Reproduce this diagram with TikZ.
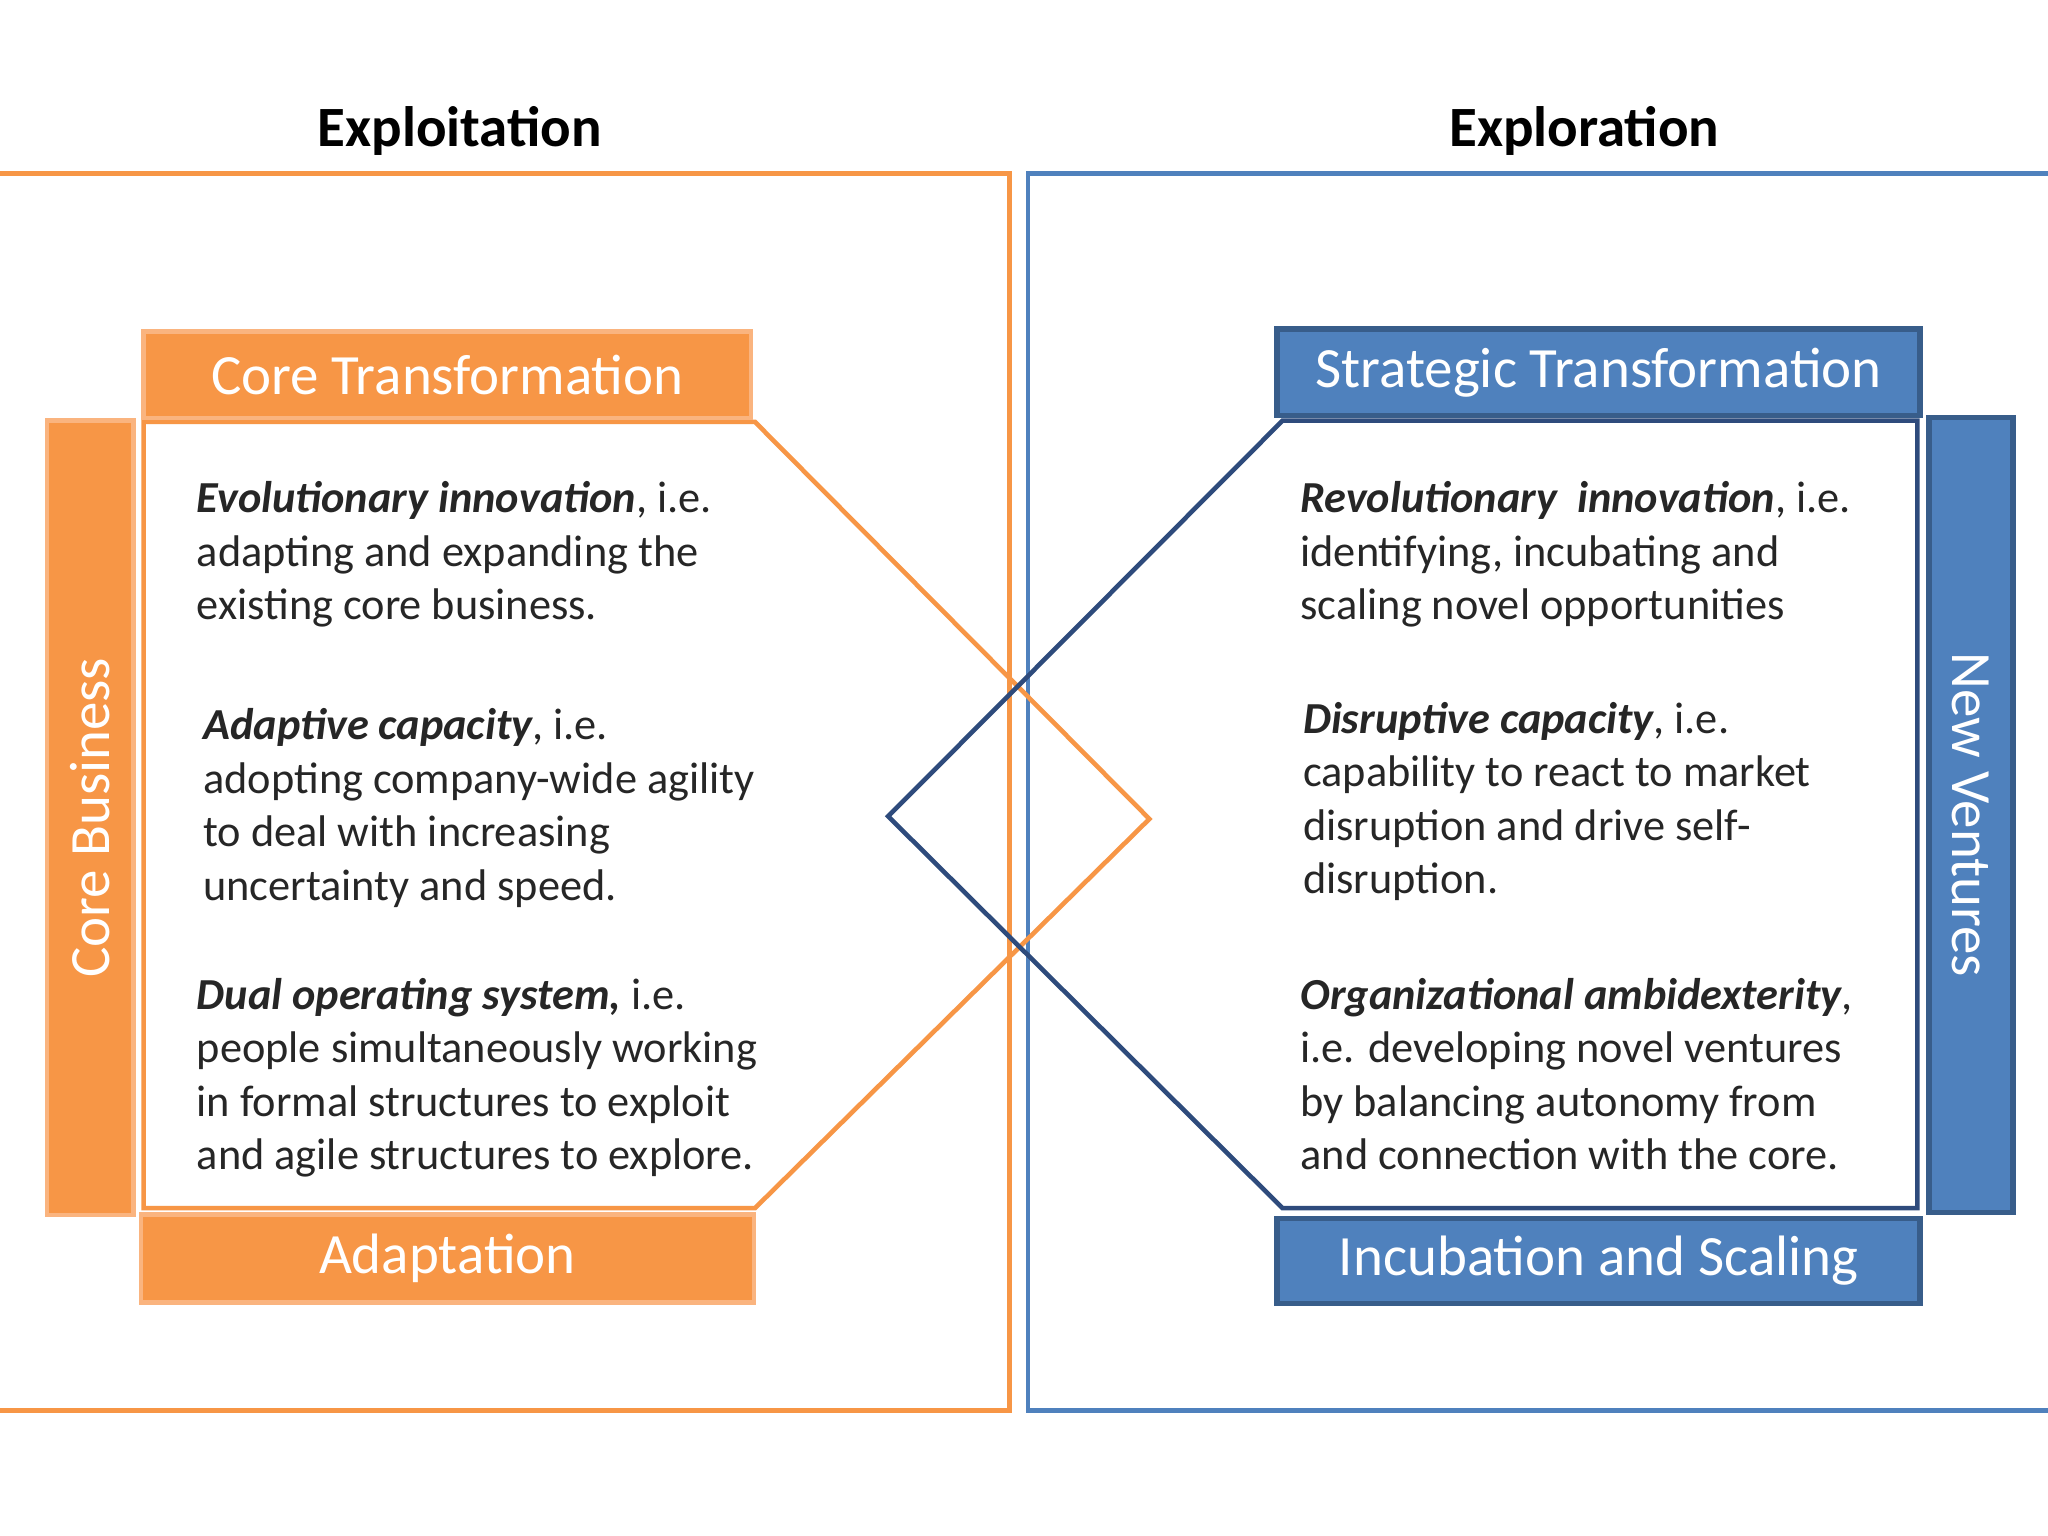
\documentclass[tikz,border=0pt]{standalone}
\usepackage{fontspec}
\setmainfont{Carlito}
\usetikzlibrary{calc}
\definecolor{exploitorange}{HTML}{F79646}
\definecolor{orangeedge}{HTML}{FAB47F}
\definecolor{explorblue}{HTML}{4F81BD}
\definecolor{explorborder}{HTML}{385D8A}
\definecolor{navyline}{HTML}{2E4B7C}
\definecolor{bodygray}{HTML}{262626}

\begin{document}
\begin{tikzpicture}[x=0.01cm, y=-0.01cm,
    orangebar/.style={draw=orangeedge, fill=exploitorange, text=white, line width=1pt, inner sep=0pt, font=\fontsize{12.4}{14}\selectfont},
    bluebar/.style={draw=explorborder, fill=explorblue, text=white, line width=1.2pt, inner sep=0pt, font=\fontsize{12.4}{14}\selectfont},
    blurb/.style={anchor=north west, align=left, inner sep=0pt, text=bodygray, font=\fontsize{9.65}{11.65}\selectfont},
    header/.style={font=\bfseries\fontsize{12.4}{14}\selectfont}]

    \fill[white] (0,0) rectangle (1568,1176);
    \useasboundingbox (0,0) rectangle (1568,1176);

    % the two halves
    \draw[exploitorange, line width=1pt] (-20,133) rectangle (773,1080);
    \draw[explorblue, line width=1pt] (787,133) rectangle (1600,1080);
    \node[header] (exploit) at (352,100) {Exploitation};
    \node[header] (explore) at (1213,100) {Exploration};

    % outlines
    \draw[exploitorange, line width=1pt] (110,323) -- (578,323) -- (880,627) -- (578,925) -- (110,925) -- cycle;
    \draw[navyline, line width=1pt] (1468,322) -- (982,322) -- (680,625) -- (982,925) -- (1468,925) -- cycle;

    % orange bars
    \node[orangebar, minimum width=4.65cm, minimum height=0.66cm] (coretrans) at (342.5,287) {Core Transformation};
    \node[orangebar, minimum width=6.08cm, minimum height=0.66cm, rotate=90] (corebus) at (69,626) {Core Business};
    \node[orangebar, minimum width=4.69cm, minimum height=0.67cm] (adapt) at (342.5,963.5) {Adaptation};

    % blue bars
    \node[bluebar, minimum width=4.92cm, minimum height=0.66cm] (strattrans) at (1224,285) {Strategic Transformation};
    \node[bluebar, minimum width=6.08cm, minimum height=0.64cm, rotate=-90] (newvent) at (1509,624) {New Ventures};
    \node[bluebar, minimum width=4.92cm, minimum height=0.65cm] (incub) at (1224,965.5) {Incubation and Scaling};

    % left texts
    \node[blurb] (evo) at (150,368) {\textbf{\itshape Evolutionary innovation}, i.e.\\adapting and expanding the\\existing core business.};
    \node[blurb] (adap) at (155,542) {\textbf{\itshape Adaptive capacity}, i.e.\\adopting company-wide agility\\to deal with increasing\\uncertainty and speed.};
    \node[blurb] (dual) at (150,748) {\textbf{\itshape Dual operating system,} i.e.\\people simultaneously working\\in formal structures to exploit\\and agile structures to explore.};

    % right texts
    \node[blurb] (revo) at (995,368) {\textbf{\itshape Revolutionary\ \ innovation}, i.e.\\identifying, incubating and\\scaling novel opportunities};
    \node[blurb] (disr) at (997,537) {\textbf{\itshape Disruptive capacity}, i.e.\\capability to react to market\\disruption and drive self-\\disruption.};
    \node[blurb] (orga) at (995,748) {\textbf{\itshape Organizational ambidexterity},\\i.e. developing novel ventures\\by balancing autonomy from\\and connection with the core.};

\end{tikzpicture}
\end{document}
